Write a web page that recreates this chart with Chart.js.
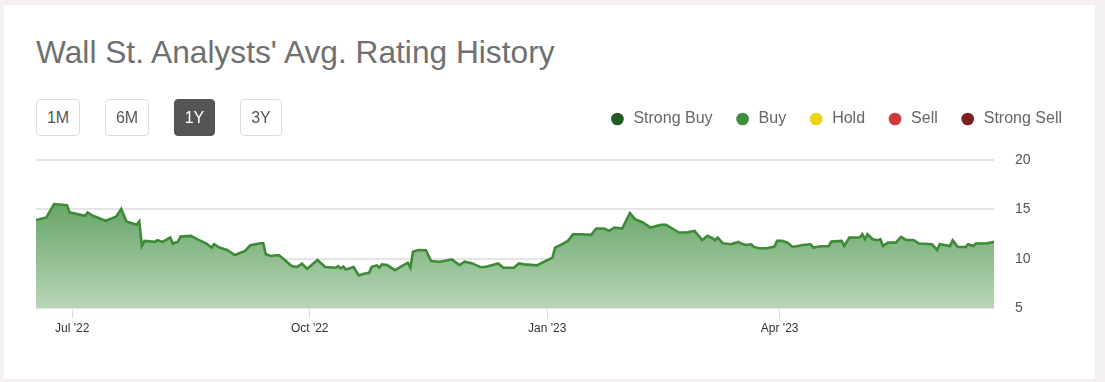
<!DOCTYPE html>
<html>
<head>
<meta charset="utf-8">
<script src="https://cdn.jsdelivr.net/npm/chart.js@4.4.0/dist/chart.umd.min.js"></script>
<style>
  html, body { margin: 0; padding: 0; }
  body {
    width: 1105px; height: 382px; background: #f4f0ef;
    font-family: "Liberation Sans", Arial, sans-serif; position: relative; overflow: hidden;
  }
  .card { position: absolute; left: 4px; top: 5px; width: 1091px; height: 374px; background: #fff; }
  h1 {
    position: absolute; left: 36px; top: 36px; margin: 0;
    font-size: 31.7px; line-height: 32px; font-weight: normal; color: #707070; white-space: nowrap;
  }
  .btn {
    position: absolute; top: 99px; box-sizing: border-box; height: 37px;
    border: 1px solid #ddd; border-radius: 4px; background: #fff; color: #555;
    font-size: 16px; line-height: 35px; text-align: center; z-index: 2;
  }
  .btn.active { background: #555; border-color: #555; color: #fff; }
  #chart { position: absolute; left: 36px; top: 89px; }
</style>
</head>
<body>
<div class="card"></div>
<h1>Wall St. Analysts' Avg. Rating History</h1>
<div class="btn" style="left:36px;width:44px">1M</div>
<div class="btn" style="left:105px;width:44px">6M</div>
<div class="btn active" style="left:174px;width:41px">1Y</div>
<div class="btn" style="left:240px;width:42px">3Y</div>
<canvas id="chart" width="1048" height="249"></canvas>
<script>
const ratingNames = ["Strong Buy", "Buy", "Hold", "Sell", "Strong Sell"];
const ratingColors = ["#245a24", "#3e8e3e", "#ebd418", "#d13838", "#7d1f1f"];

// days counted from 1 Jul 2022
const tickDays = [0, 92, 184, 274];
const tickLabels = ["Jul '22", "Oct '22", "Jan '23", "Apr '23"];

const days = [
  -14, -10, -7, -2, -1, 5, 6, 8, 13, 17, 19, 21, 25, 26, 27, 28, 32, 33, 35, 38,
  39, 41, 42, 46, 49, 52, 54, 55, 57, 60, 63, 67, 69, 73, 74, 75, 77, 80, 82, 85,
  87, 89, 91, 95, 98, 102, 103, 104, 105, 106, 109, 111, 113, 115, 116, 118, 119, 120, 122, 125,
  127, 130, 131, 132, 134, 137, 139, 142, 144, 147, 150, 152, 155, 158, 160, 165, 167, 171, 173, 175,
  180, 182, 186, 187, 189, 192, 194, 197, 201, 203, 206, 208, 210, 213, 216, 218, 221, 224, 228, 230,
  235, 238, 241, 243, 244, 246, 248, 249, 250, 252, 255, 258, 259, 261, 263, 264, 266, 269, 272, 273,
  275, 277, 279, 283, 286, 287, 290, 293, 294, 298, 299, 301, 305, 306, 307, 308, 310, 312, 313, 314,
  316, 319, 321, 323, 326, 328, 333, 335, 336, 340, 341, 343, 346, 347, 349, 350, 354, 357
];
const buyRating = [
  13.91, 14.18, 15.54, 15.41, 14.69, 14.35, 14.69, 14.35, 13.84, 14.25, 15.03, 13.78, 13.44, 13.78, 11.29, 11.8, 11.7, 11.87, 11.7, 12.14,
  11.53, 11.73, 12.24, 12.31, 11.9, 11.53, 11.12, 11.46, 11.12, 10.88, 10.37, 10.78, 11.36, 11.56, 11.56, 10.44, 10.27, 10.37, 9.93, 9.25,
  9.15, 9.49, 8.98, 9.86, 9.15, 9.08, 9.25, 9.01, 9.2, 8.91, 9.15, 8.3, 8.47, 8.57, 9.18, 9.32, 9.1, 9.42, 9.35, 8.84,
  9.15, 9.59, 9.08, 10.71, 10.88, 10.85, 9.76, 9.69, 9.76, 9.93, 9.35, 9.69, 9.52, 9.15, 9.15, 9.52, 9.08, 9.08, 9.52, 9.42,
  9.32, 9.59, 10.1, 11.12, 11.36, 11.8, 12.48, 12.48, 12.41, 13.06, 13.06, 12.82, 13.16, 13.06, 14.63, 14.01, 13.67, 13.16, 13.44, 13.44,
  12.65, 12.65, 12.82, 12.21, 11.87, 12.31, 12.07, 11.87, 12.14, 11.56, 11.46, 11.7, 11.53, 11.39, 11.46, 11.19, 11.05, 11.05, 11.22, 11.8,
  11.8, 11.63, 11.19, 11.39, 11.46, 11.12, 11.26, 11.26, 11.73, 11.8, 11.29, 12.14, 12.14, 12.48, 11.97, 12.48, 11.97, 11.87, 11.97, 11.29,
  11.63, 11.63, 12.21, 11.9, 11.87, 11.53, 11.46, 10.88, 11.46, 11.29, 11.87, 11.19, 11.19, 11.46, 11.29, 11.53, 11.53, 11.7
];

// make room between the legend row and the plot
const legendGap = {
  id: "legendGap",
  beforeInit(chart) {
    const fit = chart.legend.fit;
    chart.legend.fit = function () {
      fit.bind(chart.legend)();
      this.height = 71;
    };
  },
};

const ctx = document.getElementById("chart").getContext("2d");
new Chart(ctx, {
  type: "line",
  data: {
    datasets: ratingNames.map((name, i) => ({
      label: name,
      data: name === "Buy" ? days.map((d, j) => ({ x: d, y: buyRating[j] })) : [],
      borderColor: "#3d8b37",
      borderWidth: 2.6,
      pointRadius: 0,
      tension: 0,
      fill: "start",
      backgroundColor: (c) => {
        const area = c.chart.chartArea;
        if (!area) return "rgba(90,160,90,0.6)";
        const g = c.chart.ctx.createLinearGradient(0, area.top, 0, area.bottom);
        g.addColorStop(0, "rgb(70,145,70)");
        g.addColorStop(1, "rgb(184,214,183)");
        return g;
      },
    })),
  },
  options: {
    responsive: false,
    animation: false,
    devicePixelRatio: 1,
    layout: { padding: 0 },
    plugins: {
      tooltip: { enabled: false },
      legend: {
        position: "top",
        align: "end",
        labels: {
          usePointStyle: true,
          boxWidth: 16,
          boxHeight: 9,
          padding: 22,
          color: "#666",
          font: { family: "Liberation Sans", size: 16 },
          generateLabels: () =>
            ratingNames.map((name, i) => ({
              text: name,
              fillStyle: ratingColors[i],
              strokeStyle: ratingColors[i],
              lineWidth: 0,
              pointStyle: "circle",
              hidden: false,
              datasetIndex: i,
              fontColor: "#666",
            })),
        },
      },
    },
    scales: {
      x: {
        type: "linear",
        min: -14,
        max: 357,
        afterBuildTicks: (scale) => {
          scale.ticks = tickDays.map((v) => ({ value: v }));
        },
        afterFit: (scale) => { scale.height = 30; },
        border: { display: false },
        grid: { drawOnChartArea: false, drawTicks: true, tickLength: 10, color: "#ddd", lineWidth: 1 },
        ticks: {
          autoSkip: false,
          maxRotation: 0,
          padding: 3,
          color: "#333",
          font: { family: "Liberation Sans", size: 12 },
          callback: (value, index) => tickLabels[index],
        },
      },
      y: {
        position: "right",
        min: 5,
        max: 20,
        afterFit: (scale) => { scale.width = 90; },
        border: { display: false },
        grid: { color: "#e4e4e4", lineWidth: 2, drawTicks: false },
        ticks: {
          stepSize: 5,
          padding: 21,
          color: "#555",
          font: { family: "Liberation Sans", size: 14 },
        },
      },
    },
  },
  plugins: [legendGap],
});
</script>
</body>
</html>
